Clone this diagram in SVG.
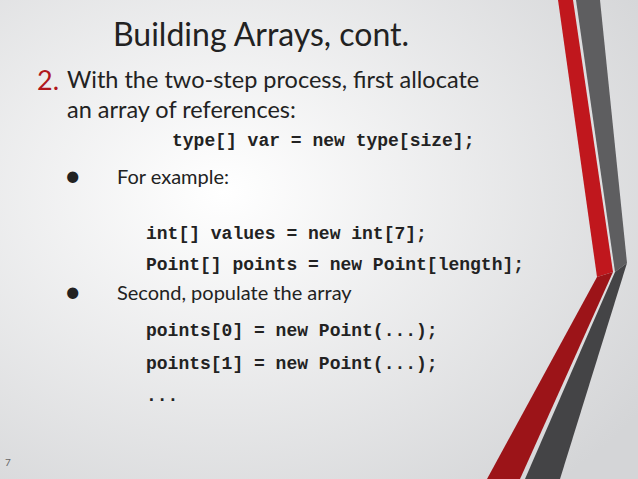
<svg xmlns="http://www.w3.org/2000/svg" width="638" height="479" viewBox="0 0 638 479">
<defs>
<radialGradient id="bg" cx="0.35" cy="0.4" r="0.8"><stop offset="0" stop-color="#ffffff"/><stop offset="1" stop-color="#d4d5d7"/></radialGradient>
<style>
.t{font-family:Lato,"Open Sans",sans-serif;fill:#222}
.c{font-family:"Liberation Mono",monospace;font-weight:bold;font-size:18px;fill:#222}
</style>
</defs>
<rect width="638" height="479" fill="url(#bg)"/>
<polygon points="558,0 573,0 613,272 597,277" fill="#c0171d"/>
<polygon points="597,277 613,272 520,479 487,479" fill="#9c1418"/>
<polygon points="576,0 600,0 627,263 615,272" fill="#5e5e60"/>
<polygon points="615,272 627,263 560,479 525,479" fill="#444446"/>
<text class="t" x="113" y="46" font-size="32">Building Arrays, cont.</text>
<text class="t" x="37" y="90" font-size="27" style="fill:#b0171c">2.</text>
<text class="t" x="67" y="88" font-size="23.5">With the two-step process, first allocate</text>
<text class="t" x="67" y="118" font-size="23.5">an array of references:</text>
<text class="c" x="172" y="146">type[] var = new type[size];</text>
<text class="t" x="64" y="186" font-size="30">•</text>
<text class="t" x="117" y="184" font-size="20">For example:</text>
<text class="c" x="146" y="239">int[] values = new int[7];</text>
<text class="c" x="146" y="270">Point[] points = new Point[length];</text>
<text class="t" x="64" y="302" font-size="30">•</text>
<text class="t" x="117" y="300" font-size="20">Second, populate the array</text>
<text class="c" x="146" y="336">points[0] = new Point(...);</text>
<text class="c" x="146" y="369">points[1] = new Point(...);</text>
<text class="c" x="146" y="401">...</text>
<text class="t" x="5" y="466" font-size="10" style="fill:#666">7</text>
</svg>
